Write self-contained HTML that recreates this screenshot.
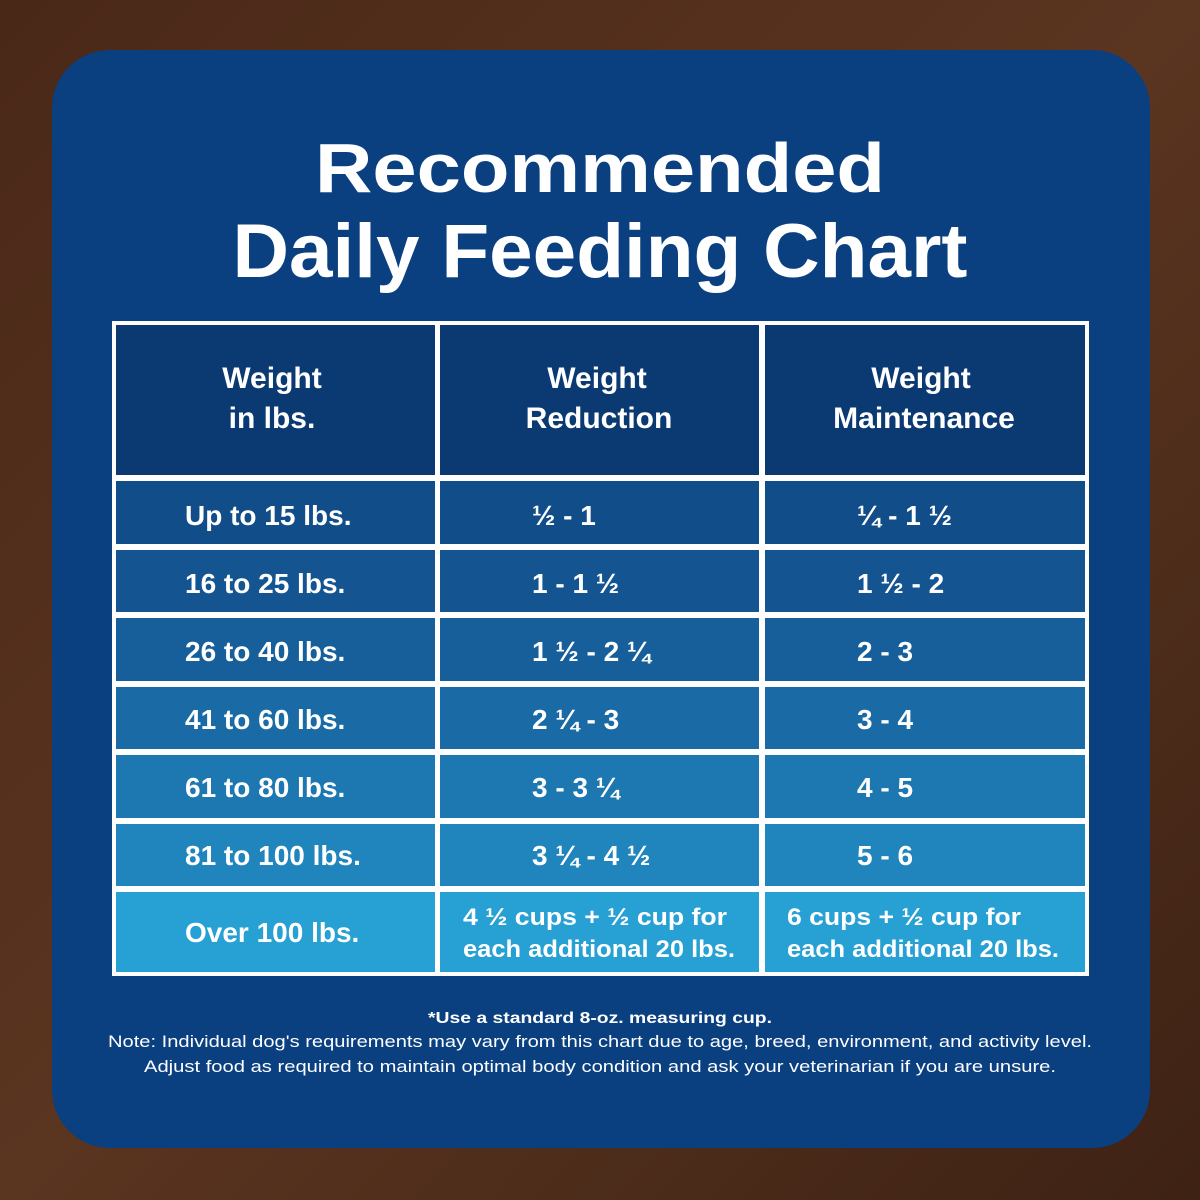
<!DOCTYPE html>
<html><head><meta charset="utf-8"><style>
html,body{margin:0;padding:0;background:#4a2a1a;}
svg{display:block}
text{font-family:"Liberation Sans",Arial,sans-serif;font-weight:bold;fill:#fff}
</style></head><body>
<svg width="1200" height="1200" viewBox="0 0 1200 1200" xmlns="http://www.w3.org/2000/svg">
<defs>
<linearGradient id="wood" x1="0" y1="0" x2="1" y2="1">
<stop offset="0" stop-color="#4a2818"/><stop offset="0.5" stop-color="#5a3520"/><stop offset="1" stop-color="#3e2214"/>
</linearGradient>
</defs>
<rect width="1200" height="1200" fill="url(#wood)"/>
<rect x="52" y="50" width="1098" height="1098" rx="58" fill="#0a3f80"/>
<text x="600" y="192" text-anchor="middle" font-size="70" textLength="570" lengthAdjust="spacingAndGlyphs">Recommended</text>
<text x="600" y="277" text-anchor="middle" font-size="76" textLength="735" lengthAdjust="spacingAndGlyphs">Daily Feeding Chart</text>

<rect x="112" y="321" width="977" height="655" fill="#fff"/>
<rect x="116" y="325" width="319" height="150" fill="#0b3a72"/>
<rect x="440" y="325" width="319" height="150" fill="#0b3a72"/>
<rect x="765" y="325" width="320" height="150" fill="#0b3a72"/>
<g>
<rect x="116" y="481" width="969" height="63" fill="#114d88"/>
<rect x="116" y="550" width="969" height="62" fill="#145591"/>
<rect x="116" y="618" width="969" height="63" fill="#175f9a"/>
<rect x="116" y="687" width="969" height="62" fill="#1a6aa5"/>
<rect x="116" y="755" width="969" height="63" fill="#1d77b1"/>
<rect x="116" y="824" width="969" height="62" fill="#2084bd"/>
<rect x="116" y="892" width="969" height="80" fill="#27a0d4"/>
</g>
<rect x="435" y="321" width="5" height="655" fill="#fff"/>
<rect x="759" y="321" width="6" height="655" fill="#fff"/>
<g fill="#fff">
<rect x="112" y="476" width="977" height="5"/>
<rect x="112" y="544" width="977" height="6"/>
<rect x="112" y="612" width="977" height="6"/>
<rect x="112" y="681" width="977" height="6"/>
<rect x="112" y="749" width="977" height="6"/>
<rect x="112" y="818" width="977" height="6"/>
<rect x="112" y="886" width="977" height="6"/>
</g>

<g font-size="30" text-anchor="middle">
<text x="272" y="388">Weight</text><text x="272" y="428">in lbs.</text>
<text x="597" y="388">Weight</text><text x="599" y="428">Reduction</text>
<text x="921" y="388">Weight</text><text x="924" y="428">Maintenance</text>
</g>
<g font-size="28">
<text x="185" y="525">Up to 15 lbs.</text>
<text x="185" y="593">16 to 25 lbs.</text>
<text x="185" y="661">26 to 40 lbs.</text>
<text x="185" y="729">41 to 60 lbs.</text>
<text x="185" y="797">61 to 80 lbs.</text>
<text x="185" y="865">81 to 100 lbs.</text>
<text x="185" y="942">Over 100 lbs.</text>
<text x="532" y="525">½ - 1</text>
<text x="532" y="593">1 - 1 ½</text>
<text x="532" y="661">1 ½ - 2 ¼</text>
<text x="532" y="729">2 ¼ - 3</text>
<text x="532" y="797">3 - 3 ¼</text>
<text x="532" y="865">3 ¼ - 4 ½</text>
<text x="857" y="525">¼ - 1 ½</text>
<text x="857" y="593">1 ½ - 2</text>
<text x="857" y="661">2 - 3</text>
<text x="857" y="729">3 - 4</text>
<text x="857" y="797">4 - 5</text>
<text x="857" y="865">5 - 6</text>
</g>
<g font-size="24">
<text x="463" y="925" textLength="264" lengthAdjust="spacingAndGlyphs">4 ½ cups  + ½ cup for</text>
<text x="463" y="957" textLength="272" lengthAdjust="spacingAndGlyphs">each additional 20 lbs.</text>
<text x="787" y="925" textLength="234" lengthAdjust="spacingAndGlyphs">6 cups  + ½ cup for</text>
<text x="787" y="957" textLength="272" lengthAdjust="spacingAndGlyphs">each additional 20 lbs.</text>
</g>
<g text-anchor="middle">
<text x="600" y="1023" font-size="16" textLength="344" lengthAdjust="spacingAndGlyphs">*Use a standard 8-oz. measuring cup.</text>
<text x="600" y="1047" font-size="17" font-weight="normal" textLength="984" lengthAdjust="spacingAndGlyphs" style="font-weight:normal">Note: Individual dog's requirements may vary from this chart due to age, breed, environment, and activity level.</text>
<text x="600" y="1072" font-size="17" textLength="912" lengthAdjust="spacingAndGlyphs" style="font-weight:normal">Adjust food as required to maintain optimal body condition and ask your veterinarian if you are unsure.</text>
</g>
</svg>
</body></html>
